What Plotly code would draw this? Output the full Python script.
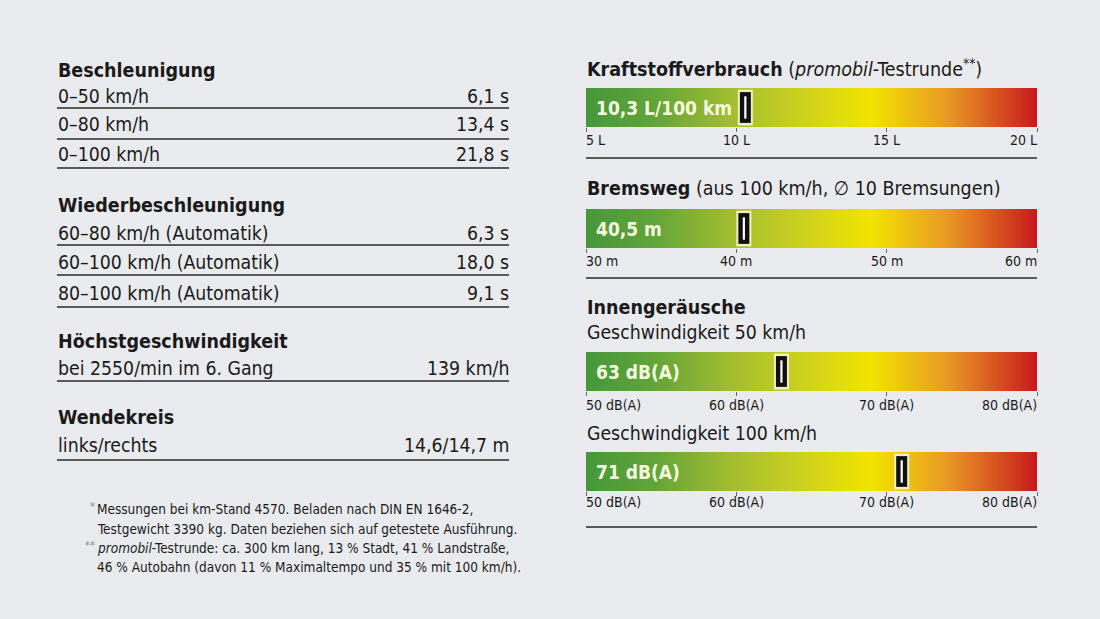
import plotly.graph_objects as go

W, H = 1100, 619
FONT = "DejaVu Sans Condensed, Liberation Sans Narrow, sans-serif"
BG = "#eaebef"
TXT = "#1a1a1a"

# ---------------- left column data ----------------
sections = ["Beschleunigung", "Wiederbeschleunigung", "Höchstgeschwindigkeit", "Wendekreis"]
accel_labels = ["0–50 km/h", "0–80 km/h", "0–100 km/h"]
accel_values = ["6,1 s", "13,4 s", "21,8 s"]
reaccel_labels = ["60–80 km/h (Automatik)", "60–100 km/h (Automatik)", "80–100 km/h (Automatik)"]
reaccel_values = ["6,3 s", "18,0 s", "9,1 s"]
vmax_labels = ["bei 2550/min im 6. Gang"]
vmax_values = ["139 km/h"]
turn_labels = ["links/rechts"]
turn_values = ["14,6/14,7 m"]

footnote_marks = ["*", "", "**", ""]
footnote_lines = [
    "Messungen bei km-Stand 4570. Beladen nach DIN EN 1646-2,",
    "Testgewicht 3390 kg. Daten beziehen sich auf getestete Ausführung.",
    "<i>promobil</i>-Testrunde: ca. 300 km lang, 13 % Stadt, 41 % Landstraße,",
    "46 % Autobahn (davon 11 % Maximaltempo und 35 % mit 100 km/h).",
]

# ---------------- gauges data ----------------
gauge_values = [10.3, 40.5, 63, 71]
gauge_value_text = ["10,3 L/100 km", "40,5 m", "63 dB(A)", "71 dB(A)"]
gauge_ranges = [(5, 20), (30, 60), (50, 80), (50, 80)]
gauge_tickvals = [[5, 10, 15, 20], [30, 40, 50, 60], [50, 60, 70, 80], [50, 60, 70, 80]]
gauge_ticktext = [["5 L", "10 L", "15 L", "20 L"],
                  ["30 m", "40 m", "50 m", "60 m"],
                  ["50 dB(A)", "60 dB(A)", "70 dB(A)", "80 dB(A)"],
                  ["50 dB(A)", "60 dB(A)", "70 dB(A)", "80 dB(A)"]]

# layout helpers (pixel -> paper)
def px(x):
    return x / W

def py(y):
    return 1 - y / H

fig = go.Figure()
annotations = []
shapes = []

LX0, LX1 = 57, 509

def add_text(x, y, text, size, anchor="left", bold=False, color=TXT):
    annotations.append(dict(
        x=px(x), y=py(y), xref="paper", yref="paper", text=("<b>%s</b>" % text) if bold else text,
        showarrow=False, xanchor=anchor, yanchor="middle",
        font=dict(family=FONT, size=size, color=color)))

def add_hline(y, x0, x1, width=1.6, color="#2a2a2a"):
    shapes.append(dict(type="line", xref="paper", yref="paper", x0=px(x0), x1=px(x1),
                       y0=py(y), y1=py(y), line=dict(color=color, width=width)))

# left table layout (pixel centers of text rows and lines)
blocks = [
    (sections[0], 70, accel_labels, accel_values, [96, 125, 154], [108, 139, 168]),
    (sections[1], 205, reaccel_labels, reaccel_values, [233, 263, 293], [245, 275, 307]),
    (sections[2], 341, vmax_labels, vmax_values, [368], [381]),
    (sections[3], 417, turn_labels, turn_values, [446], [460]),
]
for head, hy, labels, values, ys, lys in blocks:
    add_text(LX0 - 1, hy, head, 19.5, bold=True)
    for lab, val, yy, ly in zip(labels, values, ys, lys):
        add_text(LX0 - 1, yy, lab, 19.3)
        add_text(LX1 + 2, yy, val, 19.3, anchor="right")
        add_hline(ly, LX0, LX1)

foot_y = [509, 529, 548, 567]
for mark, text, yy in zip(footnote_marks, footnote_lines, foot_y):
    if mark:
        annotations.append(dict(x=px(97), y=py(yy - 3), xref="paper", yref="paper", text=mark,
                                showarrow=False, xanchor="right", yanchor="middle",
                                font=dict(family=FONT, size=11, color="#8a8a8a")))
    add_text(95, yy, text, 13.5)

# ---------------- gauges ----------------
GX0, GX1 = 586, 1037
bar_tops = [88, 209, 352, 452]
bar_h = 39
tick_label_y = [140, 261, 405, 502]

colorscale = [[0.0, "#46983c"], [0.15, "#62a43a"], [0.32, "#a3bd30"], [0.48, "#cdd21f"],
              [0.63, "#f2e400"], [0.8, "#e99a24"], [1.0, "#c8181c"]]

for i in range(4):
    lo, hi = gauge_ranges[i]
    xa = "x" if i == 0 else "x%d" % (i + 1)
    ya = "y" if i == 0 else "y%d" % (i + 1)
    xkey = "xaxis" if i == 0 else "xaxis%d" % (i + 1)
    ykey = "yaxis" if i == 0 else "yaxis%d" % (i + 1)
    top = bar_tops[i]
    fig.add_trace(go.Heatmap(
        z=[[0, 1]], x=[lo, hi], y=[0.5], zmin=0, zmax=1, zsmooth="best",
        colorscale=colorscale, showscale=False, hoverinfo="skip", xaxis=xa, yaxis=ya))
    v = gauge_values[i]
    for size, lw, col in [(25.5, 15, "#f3f0c8"), (22, 11, "#111111"), (16, 2.2, "#ffffff")]:
        fig.add_trace(go.Scatter(
            x=[v], y=[0.5], mode="markers", xaxis=xa, yaxis=ya, hoverinfo="skip",
            marker=dict(symbol="line-ns", size=size, line=dict(width=lw, color=col)),
            showlegend=False))
    fig.layout[xkey] = dict(domain=[px(GX0), px(GX1)], range=[lo, hi], anchor=ya,
                            showgrid=False, zeroline=False, showline=False,
                            ticks="outside", ticklen=4, tickwidth=1, tickcolor="#666666",
                            tickvals=gauge_tickvals[i], showticklabels=False, fixedrange=True)
    fig.layout[ykey] = dict(domain=[py(top + bar_h), py(top)], range=[0, 1], anchor=xa,
                            visible=False, fixedrange=True)
    # value label inside bar
    annotations.append(dict(x=0.018, y=0.5, xref=xa + " domain", yref=ya + " domain",
                            text="<b>%s</b>" % gauge_value_text[i], showarrow=False,
                            xanchor="left", yanchor="middle",
                            font=dict(family=FONT, size=19, color="#f6f8de")))
    # tick labels
    n = len(gauge_tickvals[i])
    for k, (tv, tt) in enumerate(zip(gauge_tickvals[i], gauge_ticktext[i])):
        anc = "left" if k == 0 else ("right" if k == n - 1 else "center")
        annotations.append(dict(x=tv, y=py(tick_label_y[i]), xref=xa, yref="paper",
                                text=tt, showarrow=False, xanchor=anc, yanchor="middle",
                                xshift=(-2 if k == 0 else (2 if k == n - 1 else 0)),
                                font=dict(family=FONT, size=14, color=TXT)))

# gauge titles
annotations.append(dict(x=px(GX0 - 1), y=py(68), xref="paper", yref="paper", showarrow=False,
                        xanchor="left", yanchor="middle",
                        text="<b>Kraftstoffverbrauch</b> (<i>promobil</i>-Testrunde<sup>**</sup>)",
                        font=dict(family=FONT, size=19.5, color=TXT)))
annotations.append(dict(x=px(GX0 - 1), y=py(188), xref="paper", yref="paper", showarrow=False,
                        xanchor="left", yanchor="middle",
                        text="<b>Bremsweg</b> (aus 100 km/h, ∅ 10 Bremsungen)",
                        font=dict(family=FONT, size=19.5, color=TXT)))
add_text(GX0 - 1, 307, "Innengeräusche", 19.5, bold=True)
add_text(GX0 - 1, 333, "Geschwindigkeit 50 km/h", 19.3)
add_text(GX0 - 1, 433, "Geschwindigkeit 100 km/h", 19.3)

add_hline(158, GX0, GX1)
add_hline(278, GX0, GX1)
add_hline(527, GX0, GX1)

fig.update_layout(width=W, height=H, margin=dict(l=0, r=0, t=0, b=0),
                  paper_bgcolor=BG, plot_bgcolor=BG, showlegend=False,
                  annotations=annotations, shapes=shapes)

fig.write_html("out.html", config={"displayModeBar": False, "staticPlot": True},
               post_script="document.body.style.margin='0';document.body.style.overflow='hidden';")
